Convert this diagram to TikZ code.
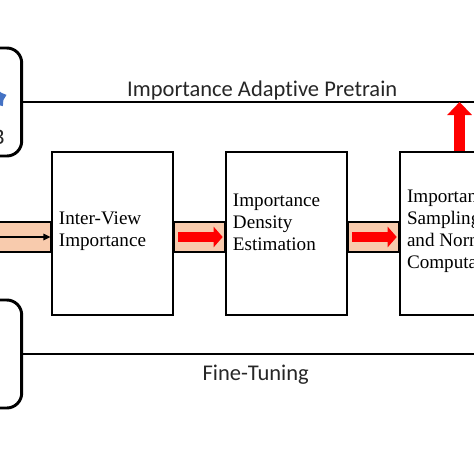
\documentclass[tikz,border=0pt]{standalone}
\usepackage{fontspec}
\setmainfont{Liberation Serif}
\newfontfamily\labelfont[Ligatures=NoCommon]{Carlito}
\usetikzlibrary{positioning,arrows.meta,shapes.geometric,calc}
\definecolor{peach}{HTML}{F8CBAD}
\definecolor{starblue}{HTML}{4472C4}
\tikzset{
  stage/.style={draw, line width=1.9pt, minimum width=3.025cm, minimum height=4.075cm, inner sep=0pt},
  stagetext/.style={anchor=west, align=left, inner sep=0pt, font=\fontsize{13.6}{15.6}\selectfont},
  phase/.style={draw, line width=2.1pt, rounded corners=0.375cm, minimum width=2.535cm, minimum height=2.7cm},
  phaseline/.style={line width=2.1pt},
  phaselabel/.style={inner sep=0pt, text=black!85, font=\labelfont\fontsize{16}{19}\selectfont},
  band/.style={draw, fill=peach, line width=1.4pt},
  flow/.style={red, line width=0.25cm, -{Triangle[length=0.225cm, width=0.5cm]}},
  lift/.style={red, line width=0.275cm, -{Triangle[length=0.325cm, width=0.6cm]}},
  feed/.style={line width=1.2pt, -{Triangle[length=0.18cm, width=0.16cm]}}
}
\begin{document}
\begin{tikzpicture}[x=0.025cm, y=-0.025cm]
    \useasboundingbox (0,0) rectangle (474,474);
    \clip (0,0) rectangle (474,474);

    % Left-hand phases
    \node[phase] (pre) at (-29,102) {};
    \node[phase] (ft) at (-29,354) {};
    \node[star, star points=5, fill=starblue, inner sep=0pt, minimum size=0.5cm] (pre-star) at (-3,98) {};
    \node[phaselabel, anchor=east] (pre-b) at (5,137) {B};

    % Main stages
    \node[stage] (ivi) at (112.5,233.5) {};
    \node[stage, right=1.258cm of ivi] (ide) {};
    \node[stage, right=1.258cm of ide] (isn) {};
    \node[stagetext] (ivi-t) at ([xshift=0.2cm, yshift=0.06cm]ivi.west) {Inter-View\\Importance};
    \node[stagetext] (ide-t) at ([xshift=0.2cm, yshift=0.29cm]ide.west) {Importance\\Density\\Estimation};
    \node[stagetext] (isn-t) at ([xshift=0.2cm, yshift=0.06cm]isn.west) {Importance\\Sampling\\and Normalization\\Computation};

    % Bands between stages
    \coordinate (in) at (-10,237);
    \draw[band] ($(in)+(0,-15)$) rectangle ($(ivi.west)+(0,18.5)$);
    \draw[band] ($(ivi.east)+(0,-11.5)$) rectangle ($(ide.west)+(0,18.5)$);
    \draw[band] ($(ide.east)+(0,-11.5)$) rectangle ($(isn.west)+(0,18.5)$);
    \draw[feed] (in) -- (ivi.west |- in);
    \draw[flow] ($(ivi.east)+(4,3.5)$) -- ($(ide.west)+(-2,3.5)$);
    \draw[flow] ($(ide.east)+(4,3.5)$) -- ($(isn.west)+(-2,3.5)$);

    % Pretrain and fine-tuning lines
    \coordinate (pre-end) at (490,102);
    \coordinate (ft-end) at (490,354);
    \draw[phaseline] (pre) -- node[phaselabel, pos=0.512, above=0.6pt] {Importance Adaptive Pretrain} (pre-end);
    \draw[phaseline] (ft) -- node[phaselabel, pos=0.498, below=7pt] {Fine-Tuning} (ft-end);
    \draw[lift] ($(isn.north)+(-1,0)$) -- ($(isn.north |- pre-end)+(-1,0)$);
\end{tikzpicture}
\end{document}
